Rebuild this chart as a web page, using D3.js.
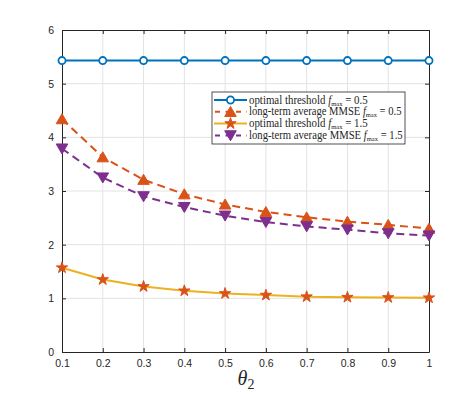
<!DOCTYPE html>
<html>
<head>
<meta charset="utf-8">
<script src="https://cdn.jsdelivr.net/npm/d3@7"></script>
<style>
  body { margin: 0; background: #fff; }
  svg text { fill: #262626; }
</style>
</head>
<body>
<svg id="canvas"></svg>
<script>
// theta_2 values along the x axis
var theta = [0.1, 0.2, 0.3, 0.4, 0.5, 0.6, 0.7, 0.8, 0.9, 1.0];
var xTicks = [0.1, 0.2, 0.3, 0.4, 0.5, 0.6, 0.7, 0.8, 0.9, 1];
var yTicks = [0, 1, 2, 3, 4, 5, 6];

// series
var optThresh05 = [5.43, 5.43, 5.43, 5.43, 5.43, 5.43, 5.43, 5.43, 5.43, 5.43];
var mmse05 = [4.34, 3.63, 3.21, 2.94, 2.75, 2.61, 2.51, 2.43, 2.37, 2.30];
var optThresh15 = [1.57, 1.35, 1.22, 1.14, 1.09, 1.06, 1.03, 1.02, 1.015, 1.01];
var mmse15 = [3.79, 3.25, 2.90, 2.70, 2.54, 2.42, 2.34, 2.28, 2.21, 2.17];

var seriesLabels = ["optimal threshold ", "long-term average MMSE ", "optimal threshold ", "long-term average MMSE "];
var seriesFmax = ["0.5", "0.5", "1.5", "1.5"];

var series = [
    {values: optThresh05, line: "#0072BD", dash: null, marker: "circle", fill: "#fff", stroke: "#0072BD", textW: 119},
    {values: mmse05, line: "#D95319", dash: "8,5", marker: "up", fill: "#D95319", stroke: "#D95319", textW: 153},
    {values: optThresh15, line: "#EDB120", dash: null, marker: "star", fill: "#D95319", stroke: "#D95319", textW: 119},
    {values: mmse15, line: "#7E2F8E", dash: "8,5", marker: "down", fill: "#7E2F8E", stroke: "#7E2F8E", textW: 154}
];

var width = 474, height = 394;
var mLeft = 62, mRight = 429, mTop = 30, mBottom = 352;

var svg = d3.select("#canvas")
    .attr("width", width)
    .attr("height", height);

var x = d3.scaleLinear().domain([0.1, 1]).range([mLeft, mRight]);
var y = d3.scaleLinear().domain([0, 6]).range([mBottom, mTop]);

// grid
var grid = svg.append("g");
grid.selectAll(".gx")
    .data(xTicks.slice(1, -1))
    .enter().append("line")
    .attr("x1", d => x(d)).attr("x2", d => x(d))
    .attr("y1", mTop).attr("y2", mBottom)
    .attr("stroke", "#e3e3e3").attr("stroke-width", 1);
grid.selectAll(".gy")
    .data(yTicks.slice(1, -1))
    .enter().append("line")
    .attr("y1", d => y(d)).attr("y2", d => y(d))
    .attr("x1", mLeft).attr("x2", mRight)
    .attr("stroke", "#e3e3e3").attr("stroke-width", 1);

// axes (ticks inward, box on)
var axisColor = "#262626";
function styleAxis(g) {
    g.select(".domain").attr("stroke", axisColor);
    g.selectAll(".tick line").attr("stroke", axisColor);
    g.selectAll(".tick text")
        .attr("fill", axisColor)
        .style("font-family", "'Liberation Sans', Arial, sans-serif")
        .style("font-size", "10.5px");
}

svg.append("g")
    .attr("transform", "translate(0," + mBottom + ")")
    .call(d3.axisBottom(x).tickValues(xTicks).tickSizeInner(-4).tickSizeOuter(0).tickPadding(8)
        .tickFormat(d => d === 1 ? "1" : d3.format(".1f")(d)))
    .call(styleAxis);

svg.append("g")
    .attr("transform", "translate(0," + mTop + ")")
    .call(d3.axisTop(x).tickValues(xTicks).tickSizeInner(-4).tickSizeOuter(0).tickFormat(""))
    .call(styleAxis);

svg.append("g")
    .attr("transform", "translate(" + mLeft + ",0)")
    .call(d3.axisLeft(y).tickValues(yTicks).tickSizeInner(-4).tickSizeOuter(0).tickPadding(8)
        .tickFormat(d3.format("d")))
    .call(styleAxis);

svg.append("g")
    .attr("transform", "translate(" + mRight + ",0)")
    .call(d3.axisRight(y).tickValues(yTicks).tickSizeInner(-4).tickSizeOuter(0).tickFormat(""))
    .call(styleAxis);

// marker paths
function markerPath(kind) {
    if (kind === "circle") return d3.symbol(d3.symbolCircle, 40)();
    if (kind === "star") return d3.symbol(d3.symbolStar, 40)();
    return d3.symbol(d3.symbolTriangle, 58)();
}
function markerTransform(kind, px, py) {
    var t = "translate(" + px + "," + py + ")";
    if (kind === "up") t += " translate(0,1.3)";
    if (kind === "down") t += " rotate(180) translate(0,1.3)";
    return t;
}

var line = d3.line()
    .x((d, i) => x(theta[i]))
    .y(d => y(d));

series.forEach(function(s) {
    svg.append("path")
        .datum(s.values)
        .attr("fill", "none")
        .attr("stroke", s.line)
        .attr("stroke-width", 2)
        .attr("stroke-dasharray", s.dash)
        .attr("d", line);

    svg.selectAll(null)
        .data(s.values)
        .enter().append("path")
        .attr("d", markerPath(s.marker))
        .attr("transform", (d, i) => markerTransform(s.marker, x(theta[i]), y(d)))
        .attr("fill", s.fill)
        .attr("stroke", s.stroke)
        .attr("stroke-width", s.marker === "circle" ? 1.8 : 1);
});

// legend
var lg = svg.append("g");
var lgX = 212, lgY = 92, lgW = 193, lgH = 52;
lg.append("rect")
    .attr("x", lgX).attr("y", lgY)
    .attr("width", lgW).attr("height", lgH)
    .attr("fill", "#fff")
    .attr("stroke", "#262626")
    .attr("stroke-width", 0.8);

series.forEach(function(s, i) {
    var cy = lgY + 8 + i * 11.8;
    lg.append("line")
        .attr("x1", lgX + 2).attr("x2", lgX + 35)
        .attr("y1", cy).attr("y2", cy)
        .attr("stroke", s.line)
        .attr("stroke-width", 2)
        .attr("stroke-dasharray", s.dash ? "5,5.5" : null)
        .attr("stroke-dashoffset", s.dash ? -1 : null);
    lg.append("path")
        .attr("d", markerPath(s.marker))
        .attr("transform", markerTransform(s.marker, lgX + 18.5, cy))
        .attr("fill", s.fill)
        .attr("stroke", s.stroke)
        .attr("stroke-width", s.marker === "circle" ? 1.8 : 1);

    // text is squeezed/stretched horizontally to the width seen in the reference
    var tg = lg.append("g");
    var t = tg.append("text")
        .attr("x", 0)
        .attr("y", 0)
        .style("font-family", "'Liberation Serif', 'DejaVu Serif', serif")
        .style("font-size", "11.5px");
    t.append("tspan").text(seriesLabels[i]);
    t.append("tspan").style("font-style", "italic").text("f");
    t.append("tspan").attr("dy", 2).style("font-size", "7px").text("max");
    t.append("tspan").attr("dy", -2).text(" = " + seriesFmax[i]);
    var w = t.node().getBBox().width;
    tg.attr("transform", "translate(" + (lgX + 37) + "," + (cy + 3.5) + ") scale(" + (s.textW / w) + ",1)");
});

// x label
var xl = svg.append("text")
    .attr("x", 246)
    .attr("y", 385)
    .attr("text-anchor", "middle")
    .style("font-family", "'Liberation Serif', 'DejaVu Serif', serif")
    .style("font-size", "20px");
xl.append("tspan").style("font-style", "italic").text("θ");
xl.append("tspan").attr("dy", 4).style("font-size", "14px").text("2");
</script>
</body>
</html>
